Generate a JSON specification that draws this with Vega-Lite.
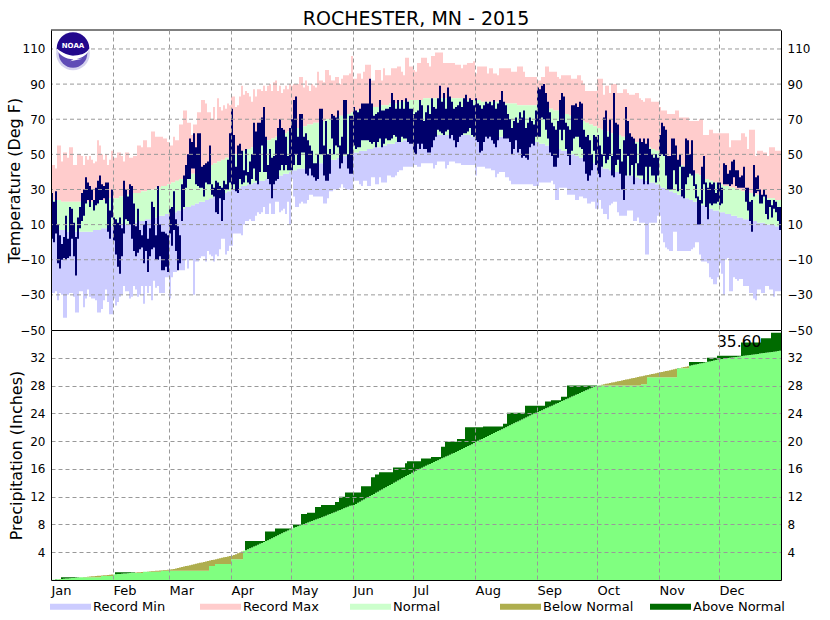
{
"$schema":"https://vega.github.io/schema/vega-lite/v6.json",
"background":"white",
"padding":{"left":6,"top":9,"right":5,"bottom":0},
"title":{"text":"ROCHESTER, MN - 2015","fontSize":19,"fontWeight":"normal","font":"DejaVu Sans","color":"black","anchor":"middle","frame":"group","offset":1},
"config":{
"view":{"stroke":null},
"bar":{"binSpacing":0},
"axis":{"labelFont":"DejaVu Sans","labelFontSize":12,"titleFont":"DejaVu Sans","titleFontSize":16,"titleFontWeight":"normal","labelColor":"black","titleColor":"black","ticks":false,"domainColor":"black","gridColor":"#999999","gridDash":[4,3],"gridOpacity":1,"labelPadding":6,"labelOverlap":false,"labelFlush":false},
"legend":{"orient":"none","legendX":-1,"legendY":556,"direction":"horizontal","columns":5,"gridAlign":"all","columnPadding":15,"labelFont":"DejaVu Sans","labelFontSize":13,"labelColor":"black","labelOffset":2,"symbolType":"M-1,-0.15H1V0.15H-1Z","symbolSize":1681,"symbolStrokeWidth":0,"symbolOpacity":1}
},
"data":{"values":[
{"date":"2015-01-01","rmin":-29,"nlo":7,"nhi":24,"rmax":44,"lo":2,"hi":28,"pbase":0.03,"ptop":0.05,"pstatus":"Above Normal"},
{"date":"2015-01-02","rmin":-29,"nlo":7,"nhi":24,"rmax":44,"lo":0,"hi":23,"pbase":0.05,"ptop":0.05,"pstatus":"Above Normal"},
{"date":"2015-01-03","rmin":-28,"nlo":7,"nhi":24,"rmax":42,"lo":5,"hi":29,"pbase":0.08,"ptop":0.1,"pstatus":"Above Normal"},
{"date":"2015-01-04","rmin":-33,"nlo":7,"nhi":24,"rmax":55,"lo":-12,"hi":10,"pbase":0.1,"ptop":0.1,"pstatus":"Above Normal"},
{"date":"2015-01-05","rmin":-29,"nlo":7,"nhi":24,"rmax":55,"lo":-15,"hi":4,"pbase":0.12,"ptop":0.13,"pstatus":"Below Normal"},
{"date":"2015-01-06","rmin":-30,"nlo":7,"nhi":23,"rmax":46,"lo":-10,"hi":-1,"pbase":0.15,"ptop":0.38,"pstatus":"Above Normal"},
{"date":"2015-01-07","rmin":-43,"nlo":7,"nhi":23,"rmax":51,"lo":-9,"hi":3,"pbase":0.18,"ptop":0.38,"pstatus":"Above Normal"},
{"date":"2015-01-08","rmin":-43,"nlo":7,"nhi":23,"rmax":51,"lo":-10,"hi":15,"pbase":0.2,"ptop":0.38,"pstatus":"Above Normal"},
{"date":"2015-01-09","rmin":-30,"nlo":6,"nhi":23,"rmax":48,"lo":-9,"hi":2,"pbase":0.23,"ptop":0.38,"pstatus":"Above Normal"},
{"date":"2015-01-10","rmin":-29,"nlo":6,"nhi":23,"rmax":54,"lo":-8,"hi":20,"pbase":0.25,"ptop":0.38,"pstatus":"Above Normal"},
{"date":"2015-01-11","rmin":-29,"nlo":6,"nhi":23,"rmax":54,"lo":2,"hi":19,"pbase":0.28,"ptop":0.38,"pstatus":"Above Normal"},
{"date":"2015-01-12","rmin":-31,"nlo":6,"nhi":23,"rmax":44,"lo":-8,"hi":11,"pbase":0.3,"ptop":0.38,"pstatus":"Above Normal"},
{"date":"2015-01-13","rmin":-40,"nlo":6,"nhi":23,"rmax":44,"lo":-19,"hi":3,"pbase":0.33,"ptop":0.38,"pstatus":"Above Normal"},
{"date":"2015-01-14","rmin":-40,"nlo":6,"nhi":23,"rmax":50,"lo":2,"hi":14,"pbase":0.35,"ptop":0.38,"pstatus":"Above Normal"},
{"date":"2015-01-15","rmin":-28,"nlo":6,"nhi":23,"rmax":50,"lo":8,"hi":20,"pbase":0.38,"ptop":0.38,"pstatus":"Above Normal"},
{"date":"2015-01-16","rmin":-28,"nlo":6,"nhi":23,"rmax":49,"lo":12,"hi":28,"pbase":0.38,"ptop":0.4,"pstatus":"Below Normal"},
{"date":"2015-01-17","rmin":-37,"nlo":6,"nhi":23,"rmax":44,"lo":15,"hi":30,"pbase":0.38,"ptop":0.43,"pstatus":"Below Normal"},
{"date":"2015-01-18","rmin":-32,"nlo":6,"nhi":23,"rmax":49,"lo":22,"hi":37,"pbase":0.38,"ptop":0.45,"pstatus":"Below Normal"},
{"date":"2015-01-19","rmin":-27,"nlo":6,"nhi":23,"rmax":47,"lo":24,"hi":34,"pbase":0.38,"ptop":0.48,"pstatus":"Below Normal"},
{"date":"2015-01-20","rmin":-31,"nlo":6,"nhi":23,"rmax":49,"lo":20,"hi":32,"pbase":0.38,"ptop":0.5,"pstatus":"Below Normal"},
{"date":"2015-01-21","rmin":-32,"nlo":6,"nhi":23,"rmax":47,"lo":24,"hi":30,"pbase":0.38,"ptop":0.53,"pstatus":"Below Normal"},
{"date":"2015-01-22","rmin":-32,"nlo":7,"nhi":24,"rmax":45,"lo":18,"hi":24,"pbase":0.38,"ptop":0.55,"pstatus":"Below Normal"},
{"date":"2015-01-23","rmin":-33,"nlo":7,"nhi":24,"rmax":46,"lo":21,"hi":31,"pbase":0.38,"ptop":0.58,"pstatus":"Below Normal"},
{"date":"2015-01-24","rmin":-40,"nlo":7,"nhi":24,"rmax":58,"lo":22,"hi":35,"pbase":0.38,"ptop":0.6,"pstatus":"Below Normal"},
{"date":"2015-01-25","rmin":-40,"nlo":7,"nhi":24,"rmax":55,"lo":24,"hi":38,"pbase":0.38,"ptop":0.63,"pstatus":"Below Normal"},
{"date":"2015-01-26","rmin":-38,"nlo":8,"nhi":24,"rmax":50,"lo":24,"hi":33,"pbase":0.57,"ptop":0.65,"pstatus":"Below Normal"},
{"date":"2015-01-27","rmin":-33,"nlo":8,"nhi":24,"rmax":47,"lo":25,"hi":32,"pbase":0.57,"ptop":0.68,"pstatus":"Below Normal"},
{"date":"2015-01-28","rmin":-27,"nlo":8,"nhi":24,"rmax":50,"lo":22,"hi":34,"pbase":0.57,"ptop":0.7,"pstatus":"Below Normal"},
{"date":"2015-01-29","rmin":-34,"nlo":8,"nhi":24,"rmax":44,"lo":6,"hi":34,"pbase":0.57,"ptop":0.73,"pstatus":"Below Normal"},
{"date":"2015-01-30","rmin":-41,"nlo":8,"nhi":25,"rmax":47,"lo":2,"hi":18,"pbase":0.57,"ptop":0.75,"pstatus":"Below Normal"},
{"date":"2015-01-31","rmin":-41,"nlo":9,"nhi":25,"rmax":52,"lo":14,"hi":30,"pbase":0.57,"ptop":0.78,"pstatus":"Below Normal"},
{"date":"2015-02-01","rmin":-32,"nlo":9,"nhi":25,"rmax":48,"lo":1,"hi":14,"pbase":0.8,"ptop":0.8,"pstatus":"Above Normal"},
{"date":"2015-02-02","rmin":-36,"nlo":9,"nhi":25,"rmax":48,"lo":-7,"hi":13,"pbase":0.83,"ptop":1.1,"pstatus":"Above Normal"},
{"date":"2015-02-03","rmin":-34,"nlo":9,"nhi":25,"rmax":51,"lo":-14,"hi":11,"pbase":0.85,"ptop":1.1,"pstatus":"Above Normal"},
{"date":"2015-02-04","rmin":-31,"nlo":9,"nhi":26,"rmax":51,"lo":-18,"hi":14,"pbase":0.88,"ptop":1.1,"pstatus":"Above Normal"},
{"date":"2015-02-05","rmin":-30,"nlo":10,"nhi":26,"rmax":49,"lo":-8,"hi":8,"pbase":0.9,"ptop":1.1,"pstatus":"Above Normal"},
{"date":"2015-02-06","rmin":-25,"nlo":10,"nhi":26,"rmax":46,"lo":5,"hi":35,"pbase":0.93,"ptop":1.1,"pstatus":"Above Normal"},
{"date":"2015-02-07","rmin":-28,"nlo":10,"nhi":26,"rmax":51,"lo":13,"hi":30,"pbase":0.95,"ptop":1.1,"pstatus":"Above Normal"},
{"date":"2015-02-08","rmin":-28,"nlo":10,"nhi":27,"rmax":51,"lo":12,"hi":26,"pbase":0.98,"ptop":1.1,"pstatus":"Above Normal"},
{"date":"2015-02-09","rmin":-32,"nlo":11,"nhi":27,"rmax":48,"lo":10,"hi":33,"pbase":1.0,"ptop":1.1,"pstatus":"Above Normal"},
{"date":"2015-02-10","rmin":-31,"nlo":11,"nhi":27,"rmax":48,"lo":2,"hi":32,"pbase":1.03,"ptop":1.1,"pstatus":"Above Normal"},
{"date":"2015-02-11","rmin":-25,"nlo":11,"nhi":28,"rmax":49,"lo":-5,"hi":22,"pbase":1.05,"ptop":1.1,"pstatus":"Above Normal"},
{"date":"2015-02-12","rmin":-27,"nlo":11,"nhi":28,"rmax":49,"lo":-8,"hi":9,"pbase":1.0,"ptop":1.08,"pstatus":"Below Normal"},
{"date":"2015-02-13","rmin":-31,"nlo":12,"nhi":28,"rmax":55,"lo":-6,"hi":19,"pbase":1.0,"ptop":1.1,"pstatus":"Below Normal"},
{"date":"2015-02-14","rmin":-30,"nlo":12,"nhi":28,"rmax":55,"lo":-4,"hi":7,"pbase":1.0,"ptop":1.13,"pstatus":"Below Normal"},
{"date":"2015-02-15","rmin":-25,"nlo":12,"nhi":29,"rmax":54,"lo":-3,"hi":4,"pbase":1.0,"ptop":1.15,"pstatus":"Below Normal"},
{"date":"2015-02-16","rmin":-35,"nlo":12,"nhi":29,"rmax":58,"lo":-12,"hi":10,"pbase":1.18,"ptop":1.2,"pstatus":"Above Normal"},
{"date":"2015-02-17","rmin":-25,"nlo":13,"nhi":29,"rmax":58,"lo":-5,"hi":12,"pbase":1.2,"ptop":1.2,"pstatus":"Above Normal"},
{"date":"2015-02-18","rmin":-29,"nlo":13,"nhi":30,"rmax":54,"lo":-17,"hi":2,"pbase":1.2,"ptop":1.23,"pstatus":"Below Normal"},
{"date":"2015-02-19","rmin":-25,"nlo":13,"nhi":30,"rmax":54,"lo":-8,"hi":8,"pbase":1.2,"ptop":1.25,"pstatus":"Below Normal"},
{"date":"2015-02-20","rmin":-33,"nlo":14,"nhi":30,"rmax":63,"lo":-4,"hi":23,"pbase":1.2,"ptop":1.28,"pstatus":"Below Normal"},
{"date":"2015-02-21","rmin":-22,"nlo":14,"nhi":30,"rmax":63,"lo":-3,"hi":20,"pbase":1.2,"ptop":1.3,"pstatus":"Below Normal"},
{"date":"2015-02-22","rmin":-26,"nlo":14,"nhi":31,"rmax":60,"lo":-10,"hi":4,"pbase":1.2,"ptop":1.33,"pstatus":"Below Normal"},
{"date":"2015-02-23","rmin":-25,"nlo":15,"nhi":31,"rmax":60,"lo":-10,"hi":32,"pbase":1.2,"ptop":1.35,"pstatus":"Below Normal"},
{"date":"2015-02-24","rmin":-29,"nlo":15,"nhi":31,"rmax":60,"lo":-8,"hi":10,"pbase":1.2,"ptop":1.38,"pstatus":"Below Normal"},
{"date":"2015-02-25","rmin":-29,"nlo":15,"nhi":32,"rmax":60,"lo":-16,"hi":6,"pbase":1.35,"ptop":1.4,"pstatus":"Below Normal"},
{"date":"2015-02-26","rmin":-29,"nlo":15,"nhi":32,"rmax":59,"lo":-16,"hi":6,"pbase":1.35,"ptop":1.43,"pstatus":"Below Normal"},
{"date":"2015-02-27","rmin":-20,"nlo":16,"nhi":32,"rmax":59,"lo":-14,"hi":5,"pbase":1.35,"ptop":1.45,"pstatus":"Below Normal"},
{"date":"2015-02-28","rmin":-20,"nlo":16,"nhi":33,"rmax":57,"lo":-17,"hi":4,"pbase":1.35,"ptop":1.48,"pstatus":"Below Normal"},
{"date":"2015-03-01","rmin":-32,"nlo":16,"nhi":33,"rmax":55,"lo":5,"hi":19,"pbase":1.35,"ptop":1.5,"pstatus":"Below Normal"},
{"date":"2015-03-02","rmin":-20,"nlo":17,"nhi":34,"rmax":55,"lo":-2,"hi":20,"pbase":1.35,"ptop":1.55,"pstatus":"Below Normal"},
{"date":"2015-03-03","rmin":-17,"nlo":17,"nhi":34,"rmax":60,"lo":7,"hi":29,"pbase":1.35,"ptop":1.6,"pstatus":"Below Normal"},
{"date":"2015-03-04","rmin":-17,"nlo":17,"nhi":35,"rmax":58,"lo":-5,"hi":13,"pbase":1.35,"ptop":1.67,"pstatus":"Below Normal"},
{"date":"2015-03-05","rmin":-15,"nlo":18,"nhi":35,"rmax":58,"lo":-16,"hi":9,"pbase":1.35,"ptop":1.73,"pstatus":"Below Normal"},
{"date":"2015-03-06","rmin":-16,"nlo":18,"nhi":36,"rmax":67,"lo":-12,"hi":4,"pbase":1.35,"ptop":1.8,"pstatus":"Below Normal"},
{"date":"2015-03-07","rmin":-16,"nlo":19,"nhi":36,"rmax":67,"lo":12,"hi":33,"pbase":1.35,"ptop":1.87,"pstatus":"Below Normal"},
{"date":"2015-03-08","rmin":-16,"nlo":19,"nhi":37,"rmax":75,"lo":20,"hi":38,"pbase":1.35,"ptop":1.93,"pstatus":"Below Normal"},
{"date":"2015-03-09","rmin":-10,"nlo":20,"nhi":37,"rmax":75,"lo":31,"hi":44,"pbase":1.35,"ptop":2.0,"pstatus":"Below Normal"},
{"date":"2015-03-10","rmin":-15,"nlo":20,"nhi":38,"rmax":68,"lo":36,"hi":50,"pbase":1.35,"ptop":2.07,"pstatus":"Below Normal"},
{"date":"2015-03-11","rmin":-10,"nlo":20,"nhi":38,"rmax":68,"lo":36,"hi":59,"pbase":1.35,"ptop":2.13,"pstatus":"Below Normal"},
{"date":"2015-03-12","rmin":-10,"nlo":21,"nhi":39,"rmax":61,"lo":42,"hi":57,"pbase":1.35,"ptop":2.2,"pstatus":"Below Normal"},
{"date":"2015-03-13","rmin":-30,"nlo":21,"nhi":39,"rmax":67,"lo":42,"hi":62,"pbase":1.35,"ptop":2.27,"pstatus":"Below Normal"},
{"date":"2015-03-14","rmin":-11,"nlo":22,"nhi":40,"rmax":67,"lo":33,"hi":54,"pbase":1.35,"ptop":2.33,"pstatus":"Below Normal"},
{"date":"2015-03-15","rmin":-11,"nlo":22,"nhi":40,"rmax":74,"lo":32,"hi":62,"pbase":1.35,"ptop":2.4,"pstatus":"Below Normal"},
{"date":"2015-03-16","rmin":-9,"nlo":23,"nhi":41,"rmax":74,"lo":31,"hi":62,"pbase":1.35,"ptop":2.47,"pstatus":"Below Normal"},
{"date":"2015-03-17","rmin":-8,"nlo":23,"nhi":41,"rmax":81,"lo":31,"hi":43,"pbase":1.35,"ptop":2.53,"pstatus":"Below Normal"},
{"date":"2015-03-18","rmin":-8,"nlo":23,"nhi":42,"rmax":81,"lo":26,"hi":44,"pbase":1.35,"ptop":2.6,"pstatus":"Below Normal"},
{"date":"2015-03-19","rmin":-11,"nlo":24,"nhi":42,"rmax":79,"lo":34,"hi":45,"pbase":1.35,"ptop":2.67,"pstatus":"Below Normal"},
{"date":"2015-03-20","rmin":-5,"nlo":24,"nhi":43,"rmax":74,"lo":33,"hi":46,"pbase":1.35,"ptop":2.73,"pstatus":"Below Normal"},
{"date":"2015-03-21","rmin":-7,"nlo":25,"nhi":43,"rmax":74,"lo":33,"hi":55,"pbase":2.0,"ptop":2.8,"pstatus":"Below Normal"},
{"date":"2015-03-22","rmin":-8,"nlo":25,"nhi":44,"rmax":70,"lo":27,"hi":33,"pbase":2.0,"ptop":2.87,"pstatus":"Below Normal"},
{"date":"2015-03-23","rmin":-11,"nlo":26,"nhi":45,"rmax":77,"lo":26,"hi":31,"pbase":2.0,"ptop":2.93,"pstatus":"Below Normal"},
{"date":"2015-03-24","rmin":-7,"nlo":26,"nhi":45,"rmax":70,"lo":17,"hi":35,"pbase":2.3,"ptop":3.0,"pstatus":"Below Normal"},
{"date":"2015-03-25","rmin":-8,"nlo":27,"nhi":46,"rmax":82,"lo":16,"hi":34,"pbase":2.3,"ptop":3.07,"pstatus":"Below Normal"},
{"date":"2015-03-26","rmin":-4,"nlo":27,"nhi":46,"rmax":77,"lo":25,"hi":32,"pbase":2.3,"ptop":3.13,"pstatus":"Below Normal"},
{"date":"2015-03-27","rmin":2,"nlo":28,"nhi":47,"rmax":75,"lo":12,"hi":31,"pbase":2.3,"ptop":3.2,"pstatus":"Below Normal"},
{"date":"2015-03-28","rmin":2,"nlo":28,"nhi":47,"rmax":78,"lo":24,"hi":35,"pbase":2.3,"ptop":3.27,"pstatus":"Below Normal"},
{"date":"2015-03-29","rmin":-7,"nlo":28,"nhi":48,"rmax":76,"lo":30,"hi":33,"pbase":2.3,"ptop":3.33,"pstatus":"Below Normal"},
{"date":"2015-03-30","rmin":-5,"nlo":29,"nhi":48,"rmax":79,"lo":30,"hi":47,"pbase":2.3,"ptop":3.4,"pstatus":"Below Normal"},
{"date":"2015-03-31","rmin":-2,"nlo":29,"nhi":48,"rmax":78,"lo":34,"hi":62,"pbase":2.3,"ptop":3.45,"pstatus":"Below Normal"},
{"date":"2015-04-01","rmin":-2,"nlo":30,"nhi":49,"rmax":83,"lo":30,"hi":76,"pbase":3.0,"ptop":3.5,"pstatus":"Below Normal"},
{"date":"2015-04-02","rmin":5,"nlo":30,"nhi":49,"rmax":83,"lo":33,"hi":61,"pbase":3.0,"ptop":3.6,"pstatus":"Below Normal"},
{"date":"2015-04-03","rmin":5,"nlo":31,"nhi":50,"rmax":77,"lo":29,"hi":43,"pbase":3.0,"ptop":3.72,"pstatus":"Below Normal"},
{"date":"2015-04-04","rmin":5,"nlo":31,"nhi":50,"rmax":78,"lo":28,"hi":55,"pbase":3.0,"ptop":3.85,"pstatus":"Below Normal"},
{"date":"2015-04-05","rmin":5,"nlo":31,"nhi":51,"rmax":83,"lo":36,"hi":56,"pbase":3.0,"ptop":3.97,"pstatus":"Below Normal"},
{"date":"2015-04-06","rmin":4,"nlo":32,"nhi":51,"rmax":89,"lo":33,"hi":52,"pbase":3.0,"ptop":4.1,"pstatus":"Below Normal"},
{"date":"2015-04-07","rmin":10,"nlo":32,"nhi":52,"rmax":84,"lo":34,"hi":41,"pbase":4.2,"ptop":4.2,"pstatus":"Above Normal"},
{"date":"2015-04-08","rmin":12,"nlo":32,"nhi":52,"rmax":86,"lo":38,"hi":53,"pbase":4.3,"ptop":5.6,"pstatus":"Above Normal"},
{"date":"2015-04-09","rmin":12,"nlo":33,"nhi":53,"rmax":85,"lo":34,"hi":40,"pbase":4.43,"ptop":5.6,"pstatus":"Above Normal"},
{"date":"2015-04-10","rmin":13,"nlo":33,"nhi":53,"rmax":83,"lo":33,"hi":46,"pbase":4.56,"ptop":5.6,"pstatus":"Above Normal"},
{"date":"2015-04-11","rmin":12,"nlo":33,"nhi":54,"rmax":80,"lo":36,"hi":50,"pbase":4.69,"ptop":5.6,"pstatus":"Above Normal"},
{"date":"2015-04-12","rmin":12,"nlo":34,"nhi":54,"rmax":87,"lo":42,"hi":68,"pbase":4.82,"ptop":5.6,"pstatus":"Above Normal"},
{"date":"2015-04-13","rmin":15,"nlo":34,"nhi":55,"rmax":83,"lo":35,"hi":63,"pbase":4.95,"ptop":5.6,"pstatus":"Above Normal"},
{"date":"2015-04-14","rmin":17,"nlo":34,"nhi":55,"rmax":87,"lo":33,"hi":68,"pbase":5.08,"ptop":5.6,"pstatus":"Above Normal"},
{"date":"2015-04-15","rmin":16,"nlo":35,"nhi":56,"rmax":87,"lo":40,"hi":68,"pbase":5.21,"ptop":5.6,"pstatus":"Above Normal"},
{"date":"2015-04-16","rmin":17,"nlo":35,"nhi":56,"rmax":86,"lo":55,"hi":71,"pbase":5.34,"ptop":5.6,"pstatus":"Above Normal"},
{"date":"2015-04-17","rmin":20,"nlo":35,"nhi":57,"rmax":89,"lo":40,"hi":77,"pbase":5.47,"ptop":5.6,"pstatus":"Above Normal"},
{"date":"2015-04-18","rmin":16,"nlo":36,"nhi":57,"rmax":86,"lo":40,"hi":60,"pbase":5.6,"ptop":7.0,"pstatus":"Above Normal"},
{"date":"2015-04-19","rmin":16,"nlo":36,"nhi":58,"rmax":89,"lo":36,"hi":44,"pbase":5.74,"ptop":7.0,"pstatus":"Above Normal"},
{"date":"2015-04-20","rmin":22,"nlo":36,"nhi":58,"rmax":90,"lo":33,"hi":53,"pbase":5.88,"ptop":7.0,"pstatus":"Above Normal"},
{"date":"2015-04-21","rmin":16,"nlo":37,"nhi":59,"rmax":86,"lo":25,"hi":48,"pbase":6.02,"ptop":7.0,"pstatus":"Above Normal"},
{"date":"2015-04-22","rmin":16,"nlo":37,"nhi":59,"rmax":91,"lo":33,"hi":49,"pbase":6.16,"ptop":7.0,"pstatus":"Above Normal"},
{"date":"2015-04-23","rmin":23,"nlo":37,"nhi":60,"rmax":92,"lo":35,"hi":58,"pbase":6.3,"ptop":7.4,"pstatus":"Above Normal"},
{"date":"2015-04-24","rmin":23,"nlo":38,"nhi":60,"rmax":86,"lo":36,"hi":65,"pbase":6.44,"ptop":7.4,"pstatus":"Above Normal"},
{"date":"2015-04-25","rmin":17,"nlo":38,"nhi":61,"rmax":89,"lo":41,"hi":70,"pbase":6.58,"ptop":7.4,"pstatus":"Above Normal"},
{"date":"2015-04-26","rmin":18,"nlo":38,"nhi":61,"rmax":85,"lo":44,"hi":65,"pbase":6.72,"ptop":7.4,"pstatus":"Above Normal"},
{"date":"2015-04-27","rmin":19,"nlo":39,"nhi":62,"rmax":87,"lo":41,"hi":64,"pbase":6.86,"ptop":7.4,"pstatus":"Above Normal"},
{"date":"2015-04-28","rmin":16,"nlo":39,"nhi":62,"rmax":89,"lo":44,"hi":60,"pbase":7.0,"ptop":7.4,"pstatus":"Above Normal"},
{"date":"2015-04-29","rmin":23,"nlo":39,"nhi":63,"rmax":87,"lo":41,"hi":49,"pbase":7.14,"ptop":7.4,"pstatus":"Above Normal"},
{"date":"2015-04-30","rmin":10,"nlo":40,"nhi":63,"rmax":90,"lo":41,"hi":65,"pbase":7.27,"ptop":7.4,"pstatus":"Above Normal"},
{"date":"2015-05-01","rmin":36,"nlo":41,"nhi":64,"rmax":89,"lo":41,"hi":70,"pbase":7.4,"ptop":7.4,"pstatus":"Above Normal"},
{"date":"2015-05-02","rmin":26,"nlo":41,"nhi":64,"rmax":90,"lo":44,"hi":81,"pbase":7.51,"ptop":8.0,"pstatus":"Above Normal"},
{"date":"2015-05-03","rmin":20,"nlo":41,"nhi":65,"rmax":90,"lo":50,"hi":83,"pbase":7.62,"ptop":8.0,"pstatus":"Above Normal"},
{"date":"2015-05-04","rmin":20,"nlo":42,"nhi":65,"rmax":90,"lo":44,"hi":60,"pbase":7.73,"ptop":8.0,"pstatus":"Above Normal"},
{"date":"2015-05-05","rmin":22,"nlo":42,"nhi":65,"rmax":94,"lo":44,"hi":73,"pbase":7.84,"ptop":8.0,"pstatus":"Above Normal"},
{"date":"2015-05-06","rmin":23,"nlo":42,"nhi":66,"rmax":94,"lo":51,"hi":73,"pbase":7.95,"ptop":9.5,"pstatus":"Above Normal"},
{"date":"2015-05-07","rmin":22,"nlo":42,"nhi":66,"rmax":88,"lo":51,"hi":60,"pbase":8.06,"ptop":9.5,"pstatus":"Above Normal"},
{"date":"2015-05-08","rmin":22,"nlo":43,"nhi":66,"rmax":92,"lo":39,"hi":62,"pbase":8.17,"ptop":9.5,"pstatus":"Above Normal"},
{"date":"2015-05-09","rmin":24,"nlo":43,"nhi":67,"rmax":89,"lo":38,"hi":58,"pbase":8.28,"ptop":9.7,"pstatus":"Above Normal"},
{"date":"2015-05-10","rmin":27,"nlo":43,"nhi":67,"rmax":86,"lo":42,"hi":55,"pbase":8.39,"ptop":9.7,"pstatus":"Above Normal"},
{"date":"2015-05-11","rmin":27,"nlo":43,"nhi":67,"rmax":90,"lo":38,"hi":52,"pbase":8.5,"ptop":9.7,"pstatus":"Above Normal"},
{"date":"2015-05-12","rmin":26,"nlo":44,"nhi":68,"rmax":89,"lo":37,"hi":45,"pbase":8.61,"ptop":9.7,"pstatus":"Above Normal"},
{"date":"2015-05-13","rmin":26,"nlo":44,"nhi":68,"rmax":88,"lo":35,"hi":45,"pbase":8.72,"ptop":10.5,"pstatus":"Above Normal"},
{"date":"2015-05-14","rmin":26,"nlo":44,"nhi":68,"rmax":97,"lo":36,"hi":50,"pbase":8.83,"ptop":10.5,"pstatus":"Above Normal"},
{"date":"2015-05-15","rmin":26,"nlo":45,"nhi":69,"rmax":92,"lo":50,"hi":76,"pbase":8.94,"ptop":10.5,"pstatus":"Above Normal"},
{"date":"2015-05-16","rmin":26,"nlo":45,"nhi":69,"rmax":92,"lo":50,"hi":76,"pbase":9.05,"ptop":10.8,"pstatus":"Above Normal"},
{"date":"2015-05-17","rmin":22,"nlo":45,"nhi":69,"rmax":91,"lo":38,"hi":55,"pbase":9.16,"ptop":10.8,"pstatus":"Above Normal"},
{"date":"2015-05-18","rmin":22,"nlo":46,"nhi":70,"rmax":98,"lo":35,"hi":69,"pbase":9.27,"ptop":10.8,"pstatus":"Above Normal"},
{"date":"2015-05-19","rmin":25,"nlo":46,"nhi":70,"rmax":98,"lo":35,"hi":50,"pbase":9.38,"ptop":10.8,"pstatus":"Above Normal"},
{"date":"2015-05-20","rmin":29,"nlo":46,"nhi":70,"rmax":95,"lo":39,"hi":53,"pbase":9.49,"ptop":10.8,"pstatus":"Above Normal"},
{"date":"2015-05-21","rmin":29,"nlo":47,"nhi":71,"rmax":92,"lo":59,"hi":73,"pbase":9.6,"ptop":10.8,"pstatus":"Above Normal"},
{"date":"2015-05-22","rmin":30,"nlo":47,"nhi":71,"rmax":92,"lo":50,"hi":72,"pbase":9.72,"ptop":10.8,"pstatus":"Above Normal"},
{"date":"2015-05-23","rmin":30,"nlo":47,"nhi":71,"rmax":94,"lo":55,"hi":71,"pbase":9.84,"ptop":11.25,"pstatus":"Above Normal"},
{"date":"2015-05-24","rmin":30,"nlo":48,"nhi":72,"rmax":94,"lo":54,"hi":75,"pbase":9.96,"ptop":11.25,"pstatus":"Above Normal"},
{"date":"2015-05-25","rmin":31,"nlo":48,"nhi":72,"rmax":90,"lo":42,"hi":55,"pbase":10.08,"ptop":12,"pstatus":"Above Normal"},
{"date":"2015-05-26","rmin":33,"nlo":48,"nhi":72,"rmax":93,"lo":45,"hi":60,"pbase":10.2,"ptop":12,"pstatus":"Above Normal"},
{"date":"2015-05-27","rmin":31,"nlo":49,"nhi":73,"rmax":95,"lo":50,"hi":81,"pbase":10.32,"ptop":12,"pstatus":"Above Normal"},
{"date":"2015-05-28","rmin":30,"nlo":49,"nhi":73,"rmax":95,"lo":50,"hi":81,"pbase":10.44,"ptop":12.6,"pstatus":"Above Normal"},
{"date":"2015-05-29","rmin":30,"nlo":49,"nhi":73,"rmax":95,"lo":42,"hi":50,"pbase":10.56,"ptop":12.6,"pstatus":"Above Normal"},
{"date":"2015-05-30","rmin":30,"nlo":50,"nhi":73,"rmax":96,"lo":39,"hi":72,"pbase":10.68,"ptop":12.6,"pstatus":"Above Normal"},
{"date":"2015-05-31","rmin":30,"nlo":50,"nhi":74,"rmax":106,"lo":39,"hi":72,"pbase":10.74,"ptop":12.6,"pstatus":"Above Normal"},
{"date":"2015-06-01","rmin":35,"nlo":51,"nhi":74,"rmax":93,"lo":55,"hi":77,"pbase":10.8,"ptop":12.6,"pstatus":"Above Normal"},
{"date":"2015-06-02","rmin":35,"nlo":51,"nhi":74,"rmax":93,"lo":53,"hi":75,"pbase":10.96,"ptop":12.6,"pstatus":"Above Normal"},
{"date":"2015-06-03","rmin":35,"nlo":51,"nhi":75,"rmax":96,"lo":54,"hi":74,"pbase":11.12,"ptop":12.6,"pstatus":"Above Normal"},
{"date":"2015-06-04","rmin":33,"nlo":52,"nhi":75,"rmax":96,"lo":54,"hi":76,"pbase":11.28,"ptop":12.6,"pstatus":"Above Normal"},
{"date":"2015-06-05","rmin":32,"nlo":52,"nhi":75,"rmax":93,"lo":58,"hi":79,"pbase":11.44,"ptop":13.5,"pstatus":"Above Normal"},
{"date":"2015-06-06","rmin":35,"nlo":52,"nhi":75,"rmax":97,"lo":58,"hi":79,"pbase":11.6,"ptop":13.5,"pstatus":"Above Normal"},
{"date":"2015-06-07","rmin":35,"nlo":52,"nhi":76,"rmax":101,"lo":58,"hi":79,"pbase":11.76,"ptop":13.5,"pstatus":"Above Normal"},
{"date":"2015-06-08","rmin":32,"nlo":53,"nhi":76,"rmax":101,"lo":58,"hi":79,"pbase":11.92,"ptop":13.5,"pstatus":"Above Normal"},
{"date":"2015-06-09","rmin":32,"nlo":53,"nhi":76,"rmax":101,"lo":57,"hi":93,"pbase":12.08,"ptop":13.5,"pstatus":"Above Normal"},
{"date":"2015-06-10","rmin":37,"nlo":53,"nhi":76,"rmax":92,"lo":56,"hi":79,"pbase":12.24,"ptop":14.8,"pstatus":"Above Normal"},
{"date":"2015-06-11","rmin":37,"nlo":54,"nhi":77,"rmax":92,"lo":57,"hi":72,"pbase":12.4,"ptop":14.8,"pstatus":"Above Normal"},
{"date":"2015-06-12","rmin":33,"nlo":54,"nhi":77,"rmax":98,"lo":54,"hi":73,"pbase":12.56,"ptop":15.2,"pstatus":"Above Normal"},
{"date":"2015-06-13","rmin":33,"nlo":54,"nhi":77,"rmax":98,"lo":57,"hi":74,"pbase":12.72,"ptop":15.2,"pstatus":"Above Normal"},
{"date":"2015-06-14","rmin":37,"nlo":54,"nhi":77,"rmax":98,"lo":59,"hi":81,"pbase":12.88,"ptop":15.5,"pstatus":"Above Normal"},
{"date":"2015-06-15","rmin":34,"nlo":55,"nhi":78,"rmax":92,"lo":54,"hi":75,"pbase":13.04,"ptop":15.5,"pstatus":"Above Normal"},
{"date":"2015-06-16","rmin":34,"nlo":55,"nhi":78,"rmax":99,"lo":56,"hi":75,"pbase":13.2,"ptop":15.5,"pstatus":"Above Normal"},
{"date":"2015-06-17","rmin":34,"nlo":55,"nhi":78,"rmax":95,"lo":59,"hi":76,"pbase":13.36,"ptop":15.5,"pstatus":"Above Normal"},
{"date":"2015-06-18","rmin":38,"nlo":56,"nhi":78,"rmax":95,"lo":58,"hi":76,"pbase":13.52,"ptop":15.5,"pstatus":"Above Normal"},
{"date":"2015-06-19","rmin":38,"nlo":56,"nhi":79,"rmax":95,"lo":58,"hi":77,"pbase":13.68,"ptop":15.5,"pstatus":"Above Normal"},
{"date":"2015-06-20","rmin":37,"nlo":56,"nhi":79,"rmax":99,"lo":59,"hi":85,"pbase":13.84,"ptop":15.5,"pstatus":"Above Normal"},
{"date":"2015-06-21","rmin":37,"nlo":56,"nhi":79,"rmax":99,"lo":61,"hi":81,"pbase":14.0,"ptop":16.2,"pstatus":"Above Normal"},
{"date":"2015-06-22","rmin":38,"nlo":57,"nhi":79,"rmax":99,"lo":60,"hi":76,"pbase":14.16,"ptop":16.2,"pstatus":"Above Normal"},
{"date":"2015-06-23","rmin":40,"nlo":57,"nhi":80,"rmax":100,"lo":57,"hi":81,"pbase":14.32,"ptop":16.2,"pstatus":"Above Normal"},
{"date":"2015-06-24","rmin":41,"nlo":57,"nhi":80,"rmax":100,"lo":57,"hi":76,"pbase":14.48,"ptop":16.2,"pstatus":"Above Normal"},
{"date":"2015-06-25","rmin":41,"nlo":57,"nhi":80,"rmax":97,"lo":60,"hi":81,"pbase":14.64,"ptop":16.2,"pstatus":"Above Normal"},
{"date":"2015-06-26","rmin":43,"nlo":58,"nhi":80,"rmax":95,"lo":59,"hi":76,"pbase":14.8,"ptop":16.2,"pstatus":"Above Normal"},
{"date":"2015-06-27","rmin":43,"nlo":58,"nhi":80,"rmax":105,"lo":59,"hi":82,"pbase":14.96,"ptop":16.8,"pstatus":"Above Normal"},
{"date":"2015-06-28","rmin":43,"nlo":58,"nhi":80,"rmax":105,"lo":57,"hi":80,"pbase":15.12,"ptop":17.1,"pstatus":"Above Normal"},
{"date":"2015-06-29","rmin":43,"nlo":58,"nhi":81,"rmax":100,"lo":56,"hi":76,"pbase":15.28,"ptop":17.1,"pstatus":"Above Normal"},
{"date":"2015-06-30","rmin":43,"nlo":59,"nhi":81,"rmax":100,"lo":56,"hi":76,"pbase":15.44,"ptop":17.1,"pstatus":"Above Normal"},
{"date":"2015-07-01","rmin":44,"nlo":59,"nhi":81,"rmax":98,"lo":51,"hi":73,"pbase":15.6,"ptop":17.1,"pstatus":"Above Normal"},
{"date":"2015-07-02","rmin":44,"nlo":59,"nhi":81,"rmax":97,"lo":50,"hi":74,"pbase":15.74,"ptop":17.1,"pstatus":"Above Normal"},
{"date":"2015-07-03","rmin":43,"nlo":59,"nhi":81,"rmax":102,"lo":56,"hi":75,"pbase":15.88,"ptop":17.1,"pstatus":"Above Normal"},
{"date":"2015-07-04","rmin":43,"nlo":59,"nhi":81,"rmax":102,"lo":53,"hi":81,"pbase":16.02,"ptop":17.1,"pstatus":"Above Normal"},
{"date":"2015-07-05","rmin":45,"nlo":60,"nhi":81,"rmax":105,"lo":56,"hi":78,"pbase":16.16,"ptop":17.5,"pstatus":"Above Normal"},
{"date":"2015-07-06","rmin":45,"nlo":60,"nhi":82,"rmax":105,"lo":53,"hi":69,"pbase":16.3,"ptop":17.5,"pstatus":"Above Normal"},
{"date":"2015-07-07","rmin":45,"nlo":60,"nhi":82,"rmax":105,"lo":53,"hi":74,"pbase":16.44,"ptop":17.5,"pstatus":"Above Normal"},
{"date":"2015-07-08","rmin":45,"nlo":60,"nhi":82,"rmax":102,"lo":51,"hi":78,"pbase":16.58,"ptop":17.5,"pstatus":"Above Normal"},
{"date":"2015-07-09","rmin":45,"nlo":60,"nhi":82,"rmax":100,"lo":51,"hi":73,"pbase":16.72,"ptop":17.5,"pstatus":"Above Normal"},
{"date":"2015-07-10","rmin":45,"nlo":60,"nhi":82,"rmax":106,"lo":54,"hi":82,"pbase":16.86,"ptop":17.7,"pstatus":"Above Normal"},
{"date":"2015-07-11","rmin":42,"nlo":60,"nhi":82,"rmax":106,"lo":58,"hi":77,"pbase":17.0,"ptop":17.7,"pstatus":"Above Normal"},
{"date":"2015-07-12","rmin":44,"nlo":61,"nhi":82,"rmax":108,"lo":60,"hi":76,"pbase":17.13,"ptop":17.7,"pstatus":"Above Normal"},
{"date":"2015-07-13","rmin":46,"nlo":61,"nhi":82,"rmax":108,"lo":64,"hi":82,"pbase":17.26,"ptop":17.7,"pstatus":"Above Normal"},
{"date":"2015-07-14","rmin":46,"nlo":61,"nhi":82,"rmax":108,"lo":63,"hi":89,"pbase":17.39,"ptop":17.7,"pstatus":"Above Normal"},
{"date":"2015-07-15","rmin":46,"nlo":61,"nhi":82,"rmax":108,"lo":62,"hi":80,"pbase":17.52,"ptop":19.2,"pstatus":"Above Normal"},
{"date":"2015-07-16","rmin":46,"nlo":61,"nhi":82,"rmax":102,"lo":61,"hi":85,"pbase":17.65,"ptop":19.2,"pstatus":"Above Normal"},
{"date":"2015-07-17","rmin":42,"nlo":61,"nhi":82,"rmax":102,"lo":63,"hi":76,"pbase":17.78,"ptop":19.9,"pstatus":"Above Normal"},
{"date":"2015-07-18","rmin":44,"nlo":61,"nhi":82,"rmax":102,"lo":64,"hi":88,"pbase":17.91,"ptop":19.9,"pstatus":"Above Normal"},
{"date":"2015-07-19","rmin":46,"nlo":61,"nhi":82,"rmax":102,"lo":59,"hi":83,"pbase":18.04,"ptop":19.9,"pstatus":"Above Normal"},
{"date":"2015-07-20","rmin":46,"nlo":61,"nhi":82,"rmax":102,"lo":61,"hi":80,"pbase":18.17,"ptop":19.9,"pstatus":"Above Normal"},
{"date":"2015-07-21","rmin":46,"nlo":61,"nhi":82,"rmax":102,"lo":58,"hi":76,"pbase":18.3,"ptop":19.9,"pstatus":"Above Normal"},
{"date":"2015-07-22","rmin":45,"nlo":61,"nhi":82,"rmax":101,"lo":54,"hi":77,"pbase":18.44,"ptop":19.9,"pstatus":"Above Normal"},
{"date":"2015-07-23","rmin":45,"nlo":61,"nhi":82,"rmax":101,"lo":57,"hi":78,"pbase":18.58,"ptop":20.3,"pstatus":"Above Normal"},
{"date":"2015-07-24","rmin":45,"nlo":61,"nhi":82,"rmax":101,"lo":60,"hi":80,"pbase":18.72,"ptop":20.3,"pstatus":"Above Normal"},
{"date":"2015-07-25","rmin":44,"nlo":61,"nhi":82,"rmax":99,"lo":61,"hi":77,"pbase":18.86,"ptop":20.3,"pstatus":"Above Normal"},
{"date":"2015-07-26","rmin":44,"nlo":61,"nhi":81,"rmax":101,"lo":62,"hi":82,"pbase":19.0,"ptop":20.3,"pstatus":"Above Normal"},
{"date":"2015-07-27","rmin":44,"nlo":61,"nhi":81,"rmax":101,"lo":62,"hi":84,"pbase":19.14,"ptop":22,"pstatus":"Above Normal"},
{"date":"2015-07-28","rmin":44,"nlo":61,"nhi":81,"rmax":102,"lo":63,"hi":80,"pbase":19.28,"ptop":22,"pstatus":"Above Normal"},
{"date":"2015-07-29","rmin":44,"nlo":61,"nhi":81,"rmax":102,"lo":65,"hi":82,"pbase":19.42,"ptop":22,"pstatus":"Above Normal"},
{"date":"2015-07-30","rmin":44,"nlo":60,"nhi":81,"rmax":102,"lo":61,"hi":81,"pbase":19.56,"ptop":22,"pstatus":"Above Normal"},
{"date":"2015-07-31","rmin":44,"nlo":60,"nhi":81,"rmax":103,"lo":60,"hi":78,"pbase":19.73,"ptop":22,"pstatus":"Above Normal"},
{"date":"2015-08-01","rmin":38,"nlo":60,"nhi":81,"rmax":96,"lo":58,"hi":82,"pbase":19.9,"ptop":22,"pstatus":"Above Normal"},
{"date":"2015-08-02","rmin":43,"nlo":60,"nhi":81,"rmax":100,"lo":57,"hi":79,"pbase":20.04,"ptop":22,"pstatus":"Above Normal"},
{"date":"2015-08-03","rmin":43,"nlo":60,"nhi":81,"rmax":100,"lo":51,"hi":78,"pbase":20.18,"ptop":22,"pstatus":"Above Normal"},
{"date":"2015-08-04","rmin":43,"nlo":60,"nhi":80,"rmax":100,"lo":52,"hi":76,"pbase":20.32,"ptop":22,"pstatus":"Above Normal"},
{"date":"2015-08-05","rmin":43,"nlo":60,"nhi":80,"rmax":100,"lo":57,"hi":78,"pbase":20.46,"ptop":22.1,"pstatus":"Above Normal"},
{"date":"2015-08-06","rmin":42,"nlo":60,"nhi":80,"rmax":100,"lo":60,"hi":80,"pbase":20.6,"ptop":22.1,"pstatus":"Above Normal"},
{"date":"2015-08-07","rmin":42,"nlo":60,"nhi":80,"rmax":96,"lo":59,"hi":79,"pbase":20.74,"ptop":22.1,"pstatus":"Above Normal"},
{"date":"2015-08-08","rmin":42,"nlo":60,"nhi":80,"rmax":99,"lo":60,"hi":80,"pbase":20.88,"ptop":22.1,"pstatus":"Above Normal"},
{"date":"2015-08-09","rmin":41,"nlo":60,"nhi":80,"rmax":99,"lo":58,"hi":78,"pbase":21.02,"ptop":22.1,"pstatus":"Above Normal"},
{"date":"2015-08-10","rmin":41,"nlo":60,"nhi":80,"rmax":96,"lo":56,"hi":81,"pbase":21.16,"ptop":22.1,"pstatus":"Above Normal"},
{"date":"2015-08-11","rmin":37,"nlo":60,"nhi":80,"rmax":96,"lo":54,"hi":76,"pbase":21.3,"ptop":22.1,"pstatus":"Above Normal"},
{"date":"2015-08-12","rmin":39,"nlo":60,"nhi":80,"rmax":95,"lo":58,"hi":79,"pbase":21.44,"ptop":22.1,"pstatus":"Above Normal"},
{"date":"2015-08-13","rmin":40,"nlo":60,"nhi":80,"rmax":99,"lo":64,"hi":81,"pbase":21.58,"ptop":22.1,"pstatus":"Above Normal"},
{"date":"2015-08-14","rmin":40,"nlo":60,"nhi":79,"rmax":99,"lo":64,"hi":86,"pbase":21.72,"ptop":22.1,"pstatus":"Above Normal"},
{"date":"2015-08-15","rmin":40,"nlo":60,"nhi":79,"rmax":99,"lo":59,"hi":80,"pbase":21.86,"ptop":22.5,"pstatus":"Above Normal"},
{"date":"2015-08-16","rmin":37,"nlo":60,"nhi":79,"rmax":99,"lo":59,"hi":78,"pbase":22.0,"ptop":22.5,"pstatus":"Above Normal"},
{"date":"2015-08-17","rmin":37,"nlo":59,"nhi":79,"rmax":99,"lo":59,"hi":73,"pbase":22.14,"ptop":24.1,"pstatus":"Above Normal"},
{"date":"2015-08-18","rmin":35,"nlo":59,"nhi":79,"rmax":99,"lo":57,"hi":70,"pbase":22.28,"ptop":24.1,"pstatus":"Above Normal"},
{"date":"2015-08-19","rmin":33,"nlo":59,"nhi":79,"rmax":97,"lo":50,"hi":65,"pbase":22.42,"ptop":24.1,"pstatus":"Above Normal"},
{"date":"2015-08-20","rmin":33,"nlo":59,"nhi":79,"rmax":97,"lo":53,"hi":69,"pbase":22.56,"ptop":24.1,"pstatus":"Above Normal"},
{"date":"2015-08-21","rmin":33,"nlo":59,"nhi":79,"rmax":97,"lo":58,"hi":71,"pbase":22.7,"ptop":24.1,"pstatus":"Above Normal"},
{"date":"2015-08-22","rmin":33,"nlo":59,"nhi":78,"rmax":100,"lo":51,"hi":68,"pbase":22.84,"ptop":24.1,"pstatus":"Above Normal"},
{"date":"2015-08-23","rmin":33,"nlo":59,"nhi":78,"rmax":100,"lo":53,"hi":74,"pbase":22.98,"ptop":24.1,"pstatus":"Above Normal"},
{"date":"2015-08-24","rmin":33,"nlo":59,"nhi":78,"rmax":100,"lo":48,"hi":71,"pbase":23.12,"ptop":24.1,"pstatus":"Above Normal"},
{"date":"2015-08-25","rmin":33,"nlo":58,"nhi":78,"rmax":97,"lo":49,"hi":75,"pbase":23.26,"ptop":24.1,"pstatus":"Above Normal"},
{"date":"2015-08-26","rmin":33,"nlo":58,"nhi":78,"rmax":94,"lo":48,"hi":65,"pbase":23.4,"ptop":25.1,"pstatus":"Above Normal"},
{"date":"2015-08-27","rmin":33,"nlo":58,"nhi":78,"rmax":94,"lo":47,"hi":68,"pbase":23.54,"ptop":25.1,"pstatus":"Above Normal"},
{"date":"2015-08-28","rmin":33,"nlo":58,"nhi":78,"rmax":94,"lo":54,"hi":71,"pbase":23.68,"ptop":25.1,"pstatus":"Above Normal"},
{"date":"2015-08-29","rmin":33,"nlo":58,"nhi":78,"rmax":94,"lo":56,"hi":69,"pbase":23.82,"ptop":25.1,"pstatus":"Above Normal"},
{"date":"2015-08-30","rmin":32,"nlo":57,"nhi":78,"rmax":94,"lo":55,"hi":67,"pbase":23.96,"ptop":25.1,"pstatus":"Above Normal"},
{"date":"2015-08-31","rmin":32,"nlo":57,"nhi":78,"rmax":94,"lo":60,"hi":75,"pbase":24.08,"ptop":25.1,"pstatus":"Above Normal"},
{"date":"2015-09-01","rmin":32,"nlo":57,"nhi":78,"rmax":92,"lo":60,"hi":88,"pbase":24.2,"ptop":25.1,"pstatus":"Above Normal"},
{"date":"2015-09-02","rmin":34,"nlo":56,"nhi":78,"rmax":92,"lo":60,"hi":87,"pbase":24.33,"ptop":25.1,"pstatus":"Above Normal"},
{"date":"2015-09-03","rmin":34,"nlo":56,"nhi":77,"rmax":94,"lo":71,"hi":89,"pbase":24.46,"ptop":25.1,"pstatus":"Above Normal"},
{"date":"2015-09-04","rmin":34,"nlo":56,"nhi":77,"rmax":94,"lo":70,"hi":90,"pbase":24.59,"ptop":25.1,"pstatus":"Above Normal"},
{"date":"2015-09-05","rmin":34,"nlo":55,"nhi":77,"rmax":100,"lo":64,"hi":85,"pbase":24.72,"ptop":25.7,"pstatus":"Above Normal"},
{"date":"2015-09-06","rmin":34,"nlo":55,"nhi":76,"rmax":100,"lo":59,"hi":80,"pbase":24.85,"ptop":25.7,"pstatus":"Above Normal"},
{"date":"2015-09-07","rmin":34,"nlo":55,"nhi":76,"rmax":97,"lo":51,"hi":74,"pbase":24.98,"ptop":25.7,"pstatus":"Above Normal"},
{"date":"2015-09-08","rmin":35,"nlo":54,"nhi":76,"rmax":97,"lo":49,"hi":68,"pbase":25.11,"ptop":25.9,"pstatus":"Above Normal"},
{"date":"2015-09-09","rmin":33,"nlo":54,"nhi":75,"rmax":97,"lo":43,"hi":66,"pbase":25.24,"ptop":25.9,"pstatus":"Above Normal"},
{"date":"2015-09-10","rmin":24,"nlo":54,"nhi":75,"rmax":97,"lo":43,"hi":64,"pbase":25.37,"ptop":25.9,"pstatus":"Above Normal"},
{"date":"2015-09-11","rmin":24,"nlo":53,"nhi":75,"rmax":94,"lo":48,"hi":69,"pbase":25.5,"ptop":25.9,"pstatus":"Above Normal"},
{"date":"2015-09-12","rmin":31,"nlo":53,"nhi":74,"rmax":93,"lo":64,"hi":81,"pbase":25.63,"ptop":25.9,"pstatus":"Above Normal"},
{"date":"2015-09-13","rmin":31,"nlo":52,"nhi":74,"rmax":95,"lo":58,"hi":85,"pbase":25.76,"ptop":26.4,"pstatus":"Above Normal"},
{"date":"2015-09-14","rmin":31,"nlo":52,"nhi":74,"rmax":95,"lo":64,"hi":83,"pbase":25.89,"ptop":26.4,"pstatus":"Above Normal"},
{"date":"2015-09-15","rmin":31,"nlo":52,"nhi":73,"rmax":95,"lo":53,"hi":68,"pbase":26.02,"ptop":26.4,"pstatus":"Above Normal"},
{"date":"2015-09-16","rmin":27,"nlo":51,"nhi":73,"rmax":95,"lo":49,"hi":66,"pbase":26.15,"ptop":28,"pstatus":"Above Normal"},
{"date":"2015-09-17","rmin":27,"nlo":51,"nhi":72,"rmax":95,"lo":44,"hi":64,"pbase":26.28,"ptop":28,"pstatus":"Above Normal"},
{"date":"2015-09-18","rmin":27,"nlo":50,"nhi":72,"rmax":93,"lo":52,"hi":78,"pbase":26.41,"ptop":28,"pstatus":"Above Normal"},
{"date":"2015-09-19","rmin":27,"nlo":50,"nhi":71,"rmax":93,"lo":59,"hi":78,"pbase":26.54,"ptop":28,"pstatus":"Above Normal"},
{"date":"2015-09-20","rmin":24,"nlo":49,"nhi":71,"rmax":93,"lo":60,"hi":79,"pbase":26.67,"ptop":28,"pstatus":"Above Normal"},
{"date":"2015-09-21","rmin":24,"nlo":49,"nhi":70,"rmax":95,"lo":60,"hi":77,"pbase":26.8,"ptop":28,"pstatus":"Above Normal"},
{"date":"2015-09-22","rmin":26,"nlo":48,"nhi":70,"rmax":95,"lo":54,"hi":80,"pbase":26.93,"ptop":28,"pstatus":"Above Normal"},
{"date":"2015-09-23","rmin":26,"nlo":48,"nhi":69,"rmax":92,"lo":53,"hi":79,"pbase":27.06,"ptop":28,"pstatus":"Above Normal"},
{"date":"2015-09-24","rmin":25,"nlo":47,"nhi":69,"rmax":90,"lo":46,"hi":64,"pbase":27.19,"ptop":28,"pstatus":"Above Normal"},
{"date":"2015-09-25","rmin":25,"nlo":47,"nhi":68,"rmax":86,"lo":39,"hi":60,"pbase":27.32,"ptop":28,"pstatus":"Above Normal"},
{"date":"2015-09-26","rmin":22,"nlo":46,"nhi":68,"rmax":86,"lo":35,"hi":61,"pbase":27.45,"ptop":28,"pstatus":"Above Normal"},
{"date":"2015-09-27","rmin":22,"nlo":46,"nhi":67,"rmax":86,"lo":38,"hi":58,"pbase":27.58,"ptop":28,"pstatus":"Above Normal"},
{"date":"2015-09-28","rmin":23,"nlo":45,"nhi":67,"rmax":86,"lo":41,"hi":50,"pbase":27.7,"ptop":28,"pstatus":"Above Normal"},
{"date":"2015-09-29","rmin":23,"nlo":45,"nhi":66,"rmax":86,"lo":52,"hi":61,"pbase":27.8,"ptop":28,"pstatus":"Above Normal"},
{"date":"2015-09-30","rmin":19,"nlo":44,"nhi":66,"rmax":86,"lo":44,"hi":60,"pbase":27.9,"ptop":28,"pstatus":"Above Normal"},
{"date":"2015-10-01","rmin":19,"nlo":43,"nhi":65,"rmax":93,"lo":39,"hi":61,"pbase":28,"ptop":28,"pstatus":"Above Normal"},
{"date":"2015-10-02","rmin":24,"nlo":43,"nhi":65,"rmax":93,"lo":37,"hi":55,"pbase":28,"ptop":28.06,"pstatus":"Below Normal"},
{"date":"2015-10-03","rmin":19,"nlo":43,"nhi":64,"rmax":93,"lo":43,"hi":50,"pbase":28,"ptop":28.12,"pstatus":"Below Normal"},
{"date":"2015-10-04","rmin":16,"nlo":42,"nhi":64,"rmax":84,"lo":49,"hi":71,"pbase":28,"ptop":28.18,"pstatus":"Below Normal"},
{"date":"2015-10-05","rmin":16,"nlo":42,"nhi":64,"rmax":89,"lo":45,"hi":75,"pbase":28,"ptop":28.25,"pstatus":"Below Normal"},
{"date":"2015-10-06","rmin":13,"nlo":42,"nhi":63,"rmax":89,"lo":47,"hi":60,"pbase":28,"ptop":28.31,"pstatus":"Below Normal"},
{"date":"2015-10-07","rmin":21,"nlo":41,"nhi":63,"rmax":85,"lo":49,"hi":70,"pbase":28,"ptop":28.37,"pstatus":"Below Normal"},
{"date":"2015-10-08","rmin":22,"nlo":41,"nhi":62,"rmax":90,"lo":38,"hi":49,"pbase":28,"ptop":28.43,"pstatus":"Below Normal"},
{"date":"2015-10-09","rmin":23,"nlo":41,"nhi":62,"rmax":90,"lo":37,"hi":85,"pbase":28,"ptop":28.49,"pstatus":"Below Normal"},
{"date":"2015-10-10","rmin":23,"nlo":40,"nhi":62,"rmax":90,"lo":44,"hi":68,"pbase":28,"ptop":28.55,"pstatus":"Below Normal"},
{"date":"2015-10-11","rmin":17,"nlo":40,"nhi":61,"rmax":85,"lo":47,"hi":67,"pbase":28,"ptop":28.61,"pstatus":"Below Normal"},
{"date":"2015-10-12","rmin":15,"nlo":40,"nhi":61,"rmax":85,"lo":39,"hi":53,"pbase":28,"ptop":28.67,"pstatus":"Below Normal"},
{"date":"2015-10-13","rmin":15,"nlo":39,"nhi":60,"rmax":85,"lo":30,"hi":46,"pbase":28,"ptop":28.74,"pstatus":"Below Normal"},
{"date":"2015-10-14","rmin":15,"nlo":39,"nhi":60,"rmax":87,"lo":24,"hi":58,"pbase":28,"ptop":28.8,"pstatus":"Below Normal"},
{"date":"2015-10-15","rmin":15,"nlo":39,"nhi":60,"rmax":87,"lo":38,"hi":77,"pbase":28,"ptop":28.86,"pstatus":"Below Normal"},
{"date":"2015-10-16","rmin":18,"nlo":38,"nhi":59,"rmax":85,"lo":49,"hi":69,"pbase":28,"ptop":28.92,"pstatus":"Below Normal"},
{"date":"2015-10-17","rmin":18,"nlo":38,"nhi":59,"rmax":84,"lo":38,"hi":62,"pbase":28,"ptop":28.98,"pstatus":"Below Normal"},
{"date":"2015-10-18","rmin":18,"nlo":38,"nhi":58,"rmax":84,"lo":44,"hi":60,"pbase":28,"ptop":29.04,"pstatus":"Below Normal"},
{"date":"2015-10-19","rmin":12,"nlo":37,"nhi":58,"rmax":84,"lo":33,"hi":59,"pbase":28,"ptop":29.1,"pstatus":"Below Normal"},
{"date":"2015-10-20","rmin":12,"nlo":37,"nhi":57,"rmax":85,"lo":45,"hi":56,"pbase":28,"ptop":29.16,"pstatus":"Below Normal"},
{"date":"2015-10-21","rmin":14,"nlo":37,"nhi":57,"rmax":85,"lo":38,"hi":45,"pbase":28,"ptop":29.23,"pstatus":"Below Normal"},
{"date":"2015-10-22","rmin":11,"nlo":36,"nhi":56,"rmax":82,"lo":38,"hi":59,"pbase":28,"ptop":29.29,"pstatus":"Below Normal"},
{"date":"2015-10-23","rmin":11,"nlo":36,"nhi":56,"rmax":81,"lo":38,"hi":57,"pbase":28.2,"ptop":29.35,"pstatus":"Below Normal"},
{"date":"2015-10-24","rmin":11,"nlo":36,"nhi":55,"rmax":80,"lo":33,"hi":59,"pbase":28.2,"ptop":29.41,"pstatus":"Below Normal"},
{"date":"2015-10-25","rmin":-7,"nlo":35,"nhi":55,"rmax":82,"lo":43,"hi":56,"pbase":28.2,"ptop":29.47,"pstatus":"Below Normal"},
{"date":"2015-10-26","rmin":-7,"nlo":35,"nhi":54,"rmax":82,"lo":33,"hi":59,"pbase":29.2,"ptop":29.53,"pstatus":"Below Normal"},
{"date":"2015-10-27","rmin":11,"nlo":34,"nhi":54,"rmax":82,"lo":43,"hi":53,"pbase":29.2,"ptop":29.59,"pstatus":"Below Normal"},
{"date":"2015-10-28","rmin":11,"nlo":34,"nhi":53,"rmax":80,"lo":38,"hi":50,"pbase":29.2,"ptop":29.65,"pstatus":"Below Normal"},
{"date":"2015-10-29","rmin":11,"nlo":34,"nhi":53,"rmax":80,"lo":38,"hi":48,"pbase":29.2,"ptop":29.71,"pstatus":"Below Normal"},
{"date":"2015-10-30","rmin":11,"nlo":33,"nhi":52,"rmax":80,"lo":34,"hi":50,"pbase":29.2,"ptop":29.77,"pstatus":"Below Normal"},
{"date":"2015-10-31","rmin":15,"nlo":33,"nhi":52,"rmax":80,"lo":38,"hi":48,"pbase":29.2,"ptop":29.84,"pstatus":"Below Normal"},
{"date":"2015-11-01","rmin":15,"nlo":32,"nhi":51,"rmax":77,"lo":49,"hi":61,"pbase":29.2,"ptop":29.9,"pstatus":"Below Normal"},
{"date":"2015-11-02","rmin":5,"nlo":31,"nhi":50,"rmax":75,"lo":50,"hi":68,"pbase":29.2,"ptop":29.96,"pstatus":"Below Normal"},
{"date":"2015-11-03","rmin":0,"nlo":31,"nhi":50,"rmax":75,"lo":49,"hi":66,"pbase":29.2,"ptop":30.03,"pstatus":"Below Normal"},
{"date":"2015-11-04","rmin":-3,"nlo":30,"nhi":49,"rmax":75,"lo":38,"hi":64,"pbase":29.2,"ptop":30.09,"pstatus":"Below Normal"},
{"date":"2015-11-05","rmin":-4,"nlo":30,"nhi":48,"rmax":73,"lo":30,"hi":49,"pbase":29.2,"ptop":30.15,"pstatus":"Below Normal"},
{"date":"2015-11-06","rmin":-5,"nlo":29,"nhi":48,"rmax":73,"lo":30,"hi":49,"pbase":29.2,"ptop":30.22,"pstatus":"Below Normal"},
{"date":"2015-11-07","rmin":-5,"nlo":29,"nhi":47,"rmax":73,"lo":30,"hi":59,"pbase":29.2,"ptop":30.28,"pstatus":"Below Normal"},
{"date":"2015-11-08","rmin":6,"nlo":28,"nhi":46,"rmax":73,"lo":41,"hi":59,"pbase":29.2,"ptop":30.34,"pstatus":"Below Normal"},
{"date":"2015-11-09","rmin":6,"nlo":28,"nhi":46,"rmax":75,"lo":33,"hi":55,"pbase":29.2,"ptop":30.41,"pstatus":"Below Normal"},
{"date":"2015-11-10","rmin":-5,"nlo":27,"nhi":45,"rmax":75,"lo":29,"hi":47,"pbase":30.47,"ptop":30.5,"pstatus":"Above Normal"},
{"date":"2015-11-11","rmin":-5,"nlo":27,"nhi":44,"rmax":71,"lo":43,"hi":50,"pbase":30.5,"ptop":30.53,"pstatus":"Below Normal"},
{"date":"2015-11-12","rmin":-5,"nlo":26,"nhi":44,"rmax":71,"lo":26,"hi":43,"pbase":30.5,"ptop":30.6,"pstatus":"Below Normal"},
{"date":"2015-11-13","rmin":-5,"nlo":26,"nhi":43,"rmax":71,"lo":25,"hi":43,"pbase":30.5,"ptop":30.66,"pstatus":"Below Normal"},
{"date":"2015-11-14","rmin":-5,"nlo":25,"nhi":42,"rmax":71,"lo":33,"hi":59,"pbase":30.5,"ptop":30.72,"pstatus":"Below Normal"},
{"date":"2015-11-15","rmin":-5,"nlo":25,"nhi":42,"rmax":71,"lo":37,"hi":58,"pbase":30.5,"ptop":30.79,"pstatus":"Below Normal"},
{"date":"2015-11-16","rmin":-5,"nlo":24,"nhi":41,"rmax":69,"lo":39,"hi":50,"pbase":30.85,"ptop":31.4,"pstatus":"Above Normal"},
{"date":"2015-11-17","rmin":-4,"nlo":24,"nhi":41,"rmax":69,"lo":38,"hi":58,"pbase":30.91,"ptop":31.4,"pstatus":"Above Normal"},
{"date":"2015-11-18","rmin":-3,"nlo":23,"nhi":40,"rmax":69,"lo":32,"hi":41,"pbase":30.98,"ptop":31.4,"pstatus":"Above Normal"},
{"date":"2015-11-19","rmin":0,"nlo":23,"nhi":39,"rmax":69,"lo":25,"hi":33,"pbase":31.04,"ptop":31.4,"pstatus":"Above Normal"},
{"date":"2015-11-20","rmin":0,"nlo":22,"nhi":39,"rmax":69,"lo":10,"hi":26,"pbase":31.1,"ptop":31.4,"pstatus":"Above Normal"},
{"date":"2015-11-21","rmin":-7,"nlo":22,"nhi":38,"rmax":70,"lo":10,"hi":24,"pbase":31.17,"ptop":31.4,"pstatus":"Above Normal"},
{"date":"2015-11-22","rmin":-11,"nlo":21,"nhi":38,"rmax":70,"lo":22,"hi":43,"pbase":31.23,"ptop":31.4,"pstatus":"Above Normal"},
{"date":"2015-11-23","rmin":-11,"nlo":21,"nhi":37,"rmax":61,"lo":33,"hi":49,"pbase":31.29,"ptop":31.4,"pstatus":"Above Normal"},
{"date":"2015-11-24","rmin":-11,"nlo":20,"nhi":36,"rmax":61,"lo":20,"hi":34,"pbase":31.36,"ptop":31.4,"pstatus":"Above Normal"},
{"date":"2015-11-25","rmin":-12,"nlo":20,"nhi":36,"rmax":61,"lo":13,"hi":31,"pbase":31.42,"ptop":32,"pstatus":"Above Normal"},
{"date":"2015-11-26","rmin":-20,"nlo":19,"nhi":35,"rmax":64,"lo":22,"hi":34,"pbase":31.48,"ptop":32,"pstatus":"Above Normal"},
{"date":"2015-11-27","rmin":-21,"nlo":19,"nhi":35,"rmax":64,"lo":21,"hi":33,"pbase":31.55,"ptop":32,"pstatus":"Above Normal"},
{"date":"2015-11-28","rmin":-24,"nlo":18,"nhi":34,"rmax":62,"lo":22,"hi":34,"pbase":31.61,"ptop":32,"pstatus":"Above Normal"},
{"date":"2015-11-29","rmin":-24,"nlo":18,"nhi":34,"rmax":62,"lo":22,"hi":28,"pbase":31.67,"ptop":32,"pstatus":"Above Normal"},
{"date":"2015-11-30","rmin":-20,"nlo":18,"nhi":33,"rmax":62,"lo":23,"hi":34,"pbase":31.74,"ptop":32.3,"pstatus":"Above Normal"},
{"date":"2015-12-01","rmin":-12,"nlo":17,"nhi":33,"rmax":62,"lo":21,"hi":34,"pbase":31.8,"ptop":32.3,"pstatus":"Above Normal"},
{"date":"2015-12-02","rmin":-18,"nlo":17,"nhi":33,"rmax":62,"lo":22,"hi":31,"pbase":31.84,"ptop":32.3,"pstatus":"Above Normal"},
{"date":"2015-12-03","rmin":-30,"nlo":17,"nhi":32,"rmax":62,"lo":33,"hi":45,"pbase":31.88,"ptop":32.3,"pstatus":"Above Normal"},
{"date":"2015-12-04","rmin":-10,"nlo":16,"nhi":32,"rmax":62,"lo":33,"hi":44,"pbase":31.92,"ptop":32.3,"pstatus":"Above Normal"},
{"date":"2015-12-05","rmin":-9,"nlo":16,"nhi":32,"rmax":62,"lo":33,"hi":39,"pbase":31.96,"ptop":32.3,"pstatus":"Above Normal"},
{"date":"2015-12-06","rmin":-28,"nlo":16,"nhi":31,"rmax":54,"lo":32,"hi":41,"pbase":32.0,"ptop":32.3,"pstatus":"Above Normal"},
{"date":"2015-12-07","rmin":-28,"nlo":15,"nhi":31,"rmax":58,"lo":33,"hi":46,"pbase":32.04,"ptop":32.3,"pstatus":"Above Normal"},
{"date":"2015-12-08","rmin":-20,"nlo":15,"nhi":31,"rmax":58,"lo":37,"hi":47,"pbase":32.08,"ptop":32.3,"pstatus":"Above Normal"},
{"date":"2015-12-09","rmin":-21,"nlo":15,"nhi":30,"rmax":58,"lo":32,"hi":41,"pbase":32.12,"ptop":32.3,"pstatus":"Above Normal"},
{"date":"2015-12-10","rmin":-22,"nlo":14,"nhi":30,"rmax":58,"lo":31,"hi":41,"pbase":32.16,"ptop":32.3,"pstatus":"Above Normal"},
{"date":"2015-12-11","rmin":-21,"nlo":14,"nhi":30,"rmax":58,"lo":31,"hi":37,"pbase":32.2,"ptop":32.3,"pstatus":"Above Normal"},
{"date":"2015-12-12","rmin":-21,"nlo":14,"nhi":29,"rmax":62,"lo":31,"hi":38,"pbase":32.24,"ptop":34.2,"pstatus":"Above Normal"},
{"date":"2015-12-13","rmin":-25,"nlo":13,"nhi":29,"rmax":62,"lo":31,"hi":43,"pbase":32.28,"ptop":34.2,"pstatus":"Above Normal"},
{"date":"2015-12-14","rmin":-25,"nlo":13,"nhi":29,"rmax":60,"lo":23,"hi":31,"pbase":32.32,"ptop":34.2,"pstatus":"Above Normal"},
{"date":"2015-12-15","rmin":-25,"nlo":13,"nhi":28,"rmax":53,"lo":18,"hi":31,"pbase":32.36,"ptop":34.2,"pstatus":"Above Normal"},
{"date":"2015-12-16","rmin":-29,"nlo":13,"nhi":28,"rmax":64,"lo":12,"hi":23,"pbase":32.4,"ptop":34.2,"pstatus":"Above Normal"},
{"date":"2015-12-17","rmin":-29,"nlo":12,"nhi":28,"rmax":64,"lo":6,"hi":24,"pbase":32.44,"ptop":34.2,"pstatus":"Above Normal"},
{"date":"2015-12-18","rmin":-32,"nlo":12,"nhi":27,"rmax":64,"lo":26,"hi":44,"pbase":32.48,"ptop":34.2,"pstatus":"Above Normal"},
{"date":"2015-12-19","rmin":-33,"nlo":12,"nhi":27,"rmax":49,"lo":28,"hi":37,"pbase":32.52,"ptop":34.2,"pstatus":"Above Normal"},
{"date":"2015-12-20","rmin":-27,"nlo":11,"nhi":27,"rmax":52,"lo":29,"hi":38,"pbase":32.56,"ptop":34.2,"pstatus":"Above Normal"},
{"date":"2015-12-21","rmin":-27,"nlo":11,"nhi":27,"rmax":52,"lo":22,"hi":30,"pbase":32.6,"ptop":34.2,"pstatus":"Above Normal"},
{"date":"2015-12-22","rmin":-29,"nlo":11,"nhi":26,"rmax":52,"lo":22,"hi":27,"pbase":32.64,"ptop":34.8,"pstatus":"Above Normal"},
{"date":"2015-12-23","rmin":-29,"nlo":11,"nhi":26,"rmax":51,"lo":26,"hi":30,"pbase":32.68,"ptop":34.8,"pstatus":"Above Normal"},
{"date":"2015-12-24","rmin":-25,"nlo":10,"nhi":26,"rmax":51,"lo":16,"hi":27,"pbase":32.72,"ptop":34.8,"pstatus":"Above Normal"},
{"date":"2015-12-25","rmin":-25,"nlo":10,"nhi":25,"rmax":49,"lo":13,"hi":24,"pbase":32.76,"ptop":34.8,"pstatus":"Above Normal"},
{"date":"2015-12-26","rmin":-27,"nlo":10,"nhi":25,"rmax":54,"lo":20,"hi":24,"pbase":32.8,"ptop":34.8,"pstatus":"Above Normal"},
{"date":"2015-12-27","rmin":-27,"nlo":10,"nhi":25,"rmax":54,"lo":14,"hi":21,"pbase":32.84,"ptop":35.6,"pstatus":"Above Normal"},
{"date":"2015-12-28","rmin":-31,"nlo":10,"nhi":25,"rmax":54,"lo":19,"hi":24,"pbase":32.88,"ptop":35.6,"pstatus":"Above Normal"},
{"date":"2015-12-29","rmin":-28,"nlo":9,"nhi":24,"rmax":52,"lo":17,"hi":23,"pbase":32.92,"ptop":35.6,"pstatus":"Above Normal"},
{"date":"2015-12-30","rmin":-28,"nlo":9,"nhi":24,"rmax":52,"lo":12,"hi":20,"pbase":32.96,"ptop":35.6,"pstatus":"Above Normal"},
{"date":"2015-12-31","rmin":-28,"nlo":9,"nhi":24,"rmax":52,"lo":7,"hi":20,"pbase":33.0,"ptop":35.6,"pstatus":"Above Normal"}
]},
"spacing":0,
"bounds":"flush",
"vconcat":[
{
"width":730,"height":300,
"resolve":{"axis":{"y":"independent"}},
"layer":[
{"mark":{"type":"bar","color":"#CCCCFF","xOffset":-0.5,"x2Offset":-0.5},"encoding":{
"x":{"field":"date","timeUnit":"utcyearmonthdate","type":"temporal","title":null,"scale":{"domain":["2015-01-01","2016-01-01"]},"axis":{"labels":false,"domain":true,"grid":true,"zindex":1,"tickCount":"month","title":null}},
"y":{"field":"rmin","type":"quantitative","scale":{"domain":[-50,120.8]},"axis":{"orient":"left","title":"Temperature (Deg F)","values":[110,90,70,50,30,10,-10,-30,-50],"grid":false,"zindex":1,"titlePadding":-3}},"y2":{"field":"nlo"}}},
{"mark":{"type":"bar","color":"#FFCCCC","xOffset":-0.5,"x2Offset":-0.5},"encoding":{
"x":{"field":"date","timeUnit":"utcyearmonthdate","type":"temporal","scale":{"domain":["2015-01-01","2016-01-01"]}},
"y":{"field":"nhi","type":"quantitative","scale":{"domain":[-50,120.8]},"axis":{"orient":"right","title":null,"values":[110,90,70,50,30,10,-10,-30,-50],"grid":false,"zindex":1}},"y2":{"field":"rmax"}}},
{"mark":{"type":"bar","color":"#CCFFCC","xOffset":-0.5,"x2Offset":-0.5},"encoding":{
"x":{"field":"date","timeUnit":"utcyearmonthdate","type":"temporal","scale":{"domain":["2015-01-01","2016-01-01"]}},
"y":{"field":"nlo","type":"quantitative","scale":{"domain":[-50,120.8]},"axis":null},"y2":{"field":"nhi"}}},
{"mark":{"type":"bar","color":"#00006B","xOffset":-0.5,"x2Offset":-0.5},"encoding":{
"x":{"field":"date","timeUnit":"utcyearmonthdate","type":"temporal","scale":{"domain":["2015-01-01","2016-01-01"]}},
"y":{"field":"lo","type":"quantitative","scale":{"domain":[-50,120.8]},"axis":null},"y2":{"field":"hi"}}},
{"data":{"values":[{"temp":110},{"temp":90},{"temp":70},{"temp":50},{"temp":30},{"temp":10},{"temp":-10},{"temp":-30}]},
"mark":{"type":"rule","color":"#999999","strokeDash":[4,3],"strokeWidth":1},
"encoding":{"y":{"field":"temp","type":"quantitative","scale":{"domain":[-50,120.8]},"axis":null}}},
{"data":{"values":[{"temp":120.8}]},
"mark":{"type":"rule","color":"black","strokeWidth":1},
"encoding":{"y":{"field":"temp","type":"quantitative","scale":{"domain":[-50,120.8]},"axis":null}}},
{"data":{"values":[{"date":"2015-01-12","temp":107.5,"label":"NOAA"}]},
"encoding":{
"x":{"field":"date","timeUnit":"utcyearmonthdate","type":"temporal","scale":{"domain":["2015-01-01","2016-01-01"]}},
"y":{"field":"temp","type":"quantitative","scale":{"domain":[-50,120.8]},"axis":null}},
"layer":[
{"mark":{"type":"point","filled":true,"shape":"circle","size":1134,"color":"#D5D2EE","opacity":1}},
{"mark":{"type":"point","filled":true,"shape":"circle","size":820,"color":"#5F4BB6","opacity":1}},
{"mark":{"type":"point","filled":true,"shape":"M-0.86,-0.25A0.86,0.86,0,0,1,0.86,-0.25C0.7,0.05,0.3,0.12,0,0.12C-0.25,0.12,-0.55,0,-0.86,-0.25Z","size":1444,"color":"#22088C","opacity":1}},
{"mark":{"type":"point","filled":true,"shape":"M-0.86,-0.25C-0.55,0,-0.25,0.12,0,0.12C0.3,0.12,0.7,0.05,0.86,-0.25C0.78,0.1,0.45,0.25,0.2,0.3L0.5,0.28L-0.15,0.42L0.02,0.32C-0.4,0.3,-0.75,0.1,-0.86,-0.25Z","size":1444,"color":"white","opacity":1}},
{"mark":{"type":"text","font":"DejaVu Sans","fontWeight":"bold","fontSize":7,"color":"white","dy":-7},"encoding":{"text":{"field":"label","type":"nominal"}}}
]}
]
},
{
"width":730,"height":250,
"resolve":{"axis":{"y":"independent"}},
"layer":[
{"mark":{"type":"bar","color":"#80FF80","xOffset":-0.5,"x2Offset":-0.5},"encoding":{
"x":{"field":"date","timeUnit":"utcyearmonthdate","type":"temporal","title":null,"scale":{"domain":["2015-01-01","2016-01-01"]},"axis":{"labelExpr":"utcyear(datum.value)>2015?'':utcFormat(datum.value,'%b')","labelAlign":"left","labelFontSize":13,"labelPadding":4,"grid":true,"zindex":1,"tickCount":"month","title":null}},
"y":{"field":"pbase","type":"quantitative","stack":null,"scale":{"domain":[0,36]},"axis":{"orient":"left","title":"Precipitation (Inches)","values":[4,8,12,16,20,24,28,32],"grid":true,"zindex":1,"titlePadding":5}}}},
{"mark":{"type":"bar","xOffset":-0.5,"x2Offset":-0.5},"encoding":{
"x":{"field":"date","timeUnit":"utcyearmonthdate","type":"temporal","scale":{"domain":["2015-01-01","2016-01-01"]}},
"y":{"field":"pbase","type":"quantitative","scale":{"domain":[0,36]},"axis":{"orient":"right","title":null,"values":[4,8,12,16,20,24,28,32],"grid":false,"zindex":1}},"y2":{"field":"ptop"},
"color":{"field":"pstatus","type":"nominal","scale":{"domain":["Record Min","Record Max","Normal","Below Normal","Above Normal"],"range":["#CCCCFF","#FFCCCC","#CCFFCC","#AEAE4E","#006B00"]},"legend":{"title":null}}}},
{"data":{"values":[{"key":"Record Min"},{"key":"Record Max"},{"key":"Normal"},{"key":"Below Normal"},{"key":"Above Normal"}]},
"mark":{"type":"rect","opacity":0},
"encoding":{"color":{"field":"key","type":"nominal","scale":{"domain":["Record Min","Record Max","Normal","Below Normal","Above Normal"],"range":["#CCCCFF","#FFCCCC","#CCFFCC","#AEAE4E","#006B00"]},"legend":{"title":null}}}},
{"data":{"values":[{"date":"2015-11-30","pos":34.3,"label":"35.60"}]},
"mark":{"type":"text","font":"DejaVu Sans","fontSize":15.5,"align":"left","color":"black"},
"encoding":{
"x":{"field":"date","timeUnit":"utcyearmonthdate","type":"temporal","scale":{"domain":["2015-01-01","2016-01-01"]}},
"y":{"field":"pos","type":"quantitative","scale":{"domain":[0,36]},"axis":null},"text":{"field":"label","type":"nominal"}}}
]
}
]
}
